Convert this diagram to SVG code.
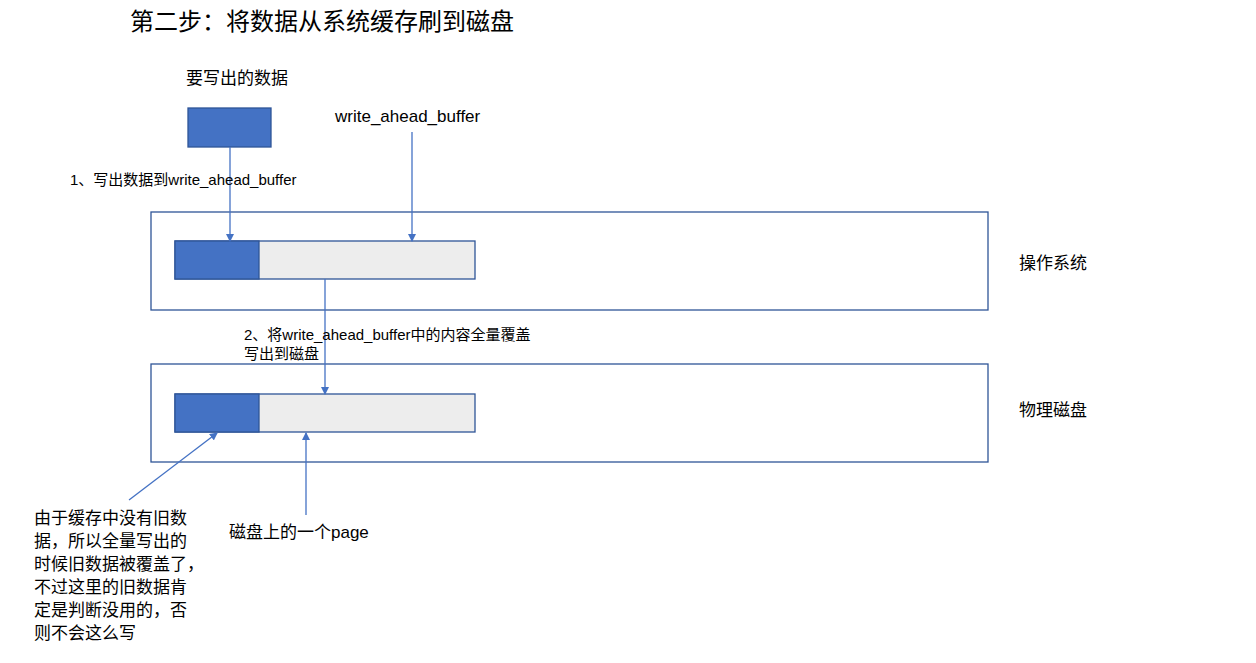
<svg xmlns="http://www.w3.org/2000/svg" width="1256" height="663" viewBox="0 0 1256 663">
<defs>
<marker id="ah" markerWidth="8" markerHeight="8" refX="7" refY="4" orient="auto" markerUnits="userSpaceOnUse"><path d="M0,0 L8,4 L0,8 z" fill="#4472c4"/></marker>
<style>
text{font-family:"Liberation Sans","Noto Sans CJK SC",sans-serif;fill:#000}
.t{font-size:24px}.m{font-size:17px}.s{font-size:15px}
.box{fill:#fff;stroke:#2f5597;stroke-width:1.3}
.blue{fill:#4472c4;stroke:#2f5597;stroke-width:1.3}
.grey{fill:#ededed;stroke:#2f5597;stroke-width:1.3}
.c{stroke:#4472c4;stroke-width:1.3;fill:none;marker-end:url(#ah)}
</style>
</defs>
<rect width="1256" height="663" fill="#fff"/>
<text class="t" x="130" y="30">第二步：将数据从系统缓存刷到磁盘</text>
<g id="data"><text class="m" x="186" y="84">要写出的数据</text><rect class="blue" x="188" y="108" width="83" height="39"/></g>
<g id="wab-label"><text class="m" x="335" y="122">write_ahead_buffer</text></g>
<g id="os"><rect class="box" x="151" y="212" width="837" height="98"/><rect class="grey" x="175" y="241" width="300" height="38"/><rect class="blue" x="175" y="241" width="84" height="38"/><text class="m" x="1019" y="269">操作系统</text></g>
<g id="disk"><rect class="box" x="151" y="364" width="837" height="98"/><rect class="grey" x="175" y="394" width="300" height="38"/><rect class="blue" x="175" y="394" width="84" height="38"/><text class="m" x="1019" y="416">物理磁盘</text></g>
<g id="connectors">
<line class="c" x1="230" y1="147" x2="230" y2="241"/>
<line class="c" x1="412" y1="132" x2="412" y2="241"/>
<line class="c" x1="325" y1="279" x2="325" y2="394"/>
<line class="c" x1="129" y1="500" x2="217" y2="433"/>
<line class="c" x1="306" y1="515" x2="306" y2="433"/>
</g>
<g id="labels">
<text class="s" x="70" y="185">1、写出数据到write_ahead_buffer</text>
<text class="s" x="244" y="340">2、将write_ahead_buffer中的内容全量覆盖</text>
<text class="s" x="244" y="359">写出到磁盘</text>
<text class="m" x="229" y="538">磁盘上的一个page</text>
<g class="m"><text class="m" x="34" y="524">由于缓存中没有旧数</text><text class="m" x="34" y="547">据，所以全量写出的</text><text class="m" x="34" y="570">时候旧数据被覆盖了，</text><text class="m" x="34" y="593">不过这里的旧数据肯</text><text class="m" x="34" y="616">定是判断没用的，否</text><text class="m" x="34" y="639">则不会这么写</text></g>
</g>
</svg>
